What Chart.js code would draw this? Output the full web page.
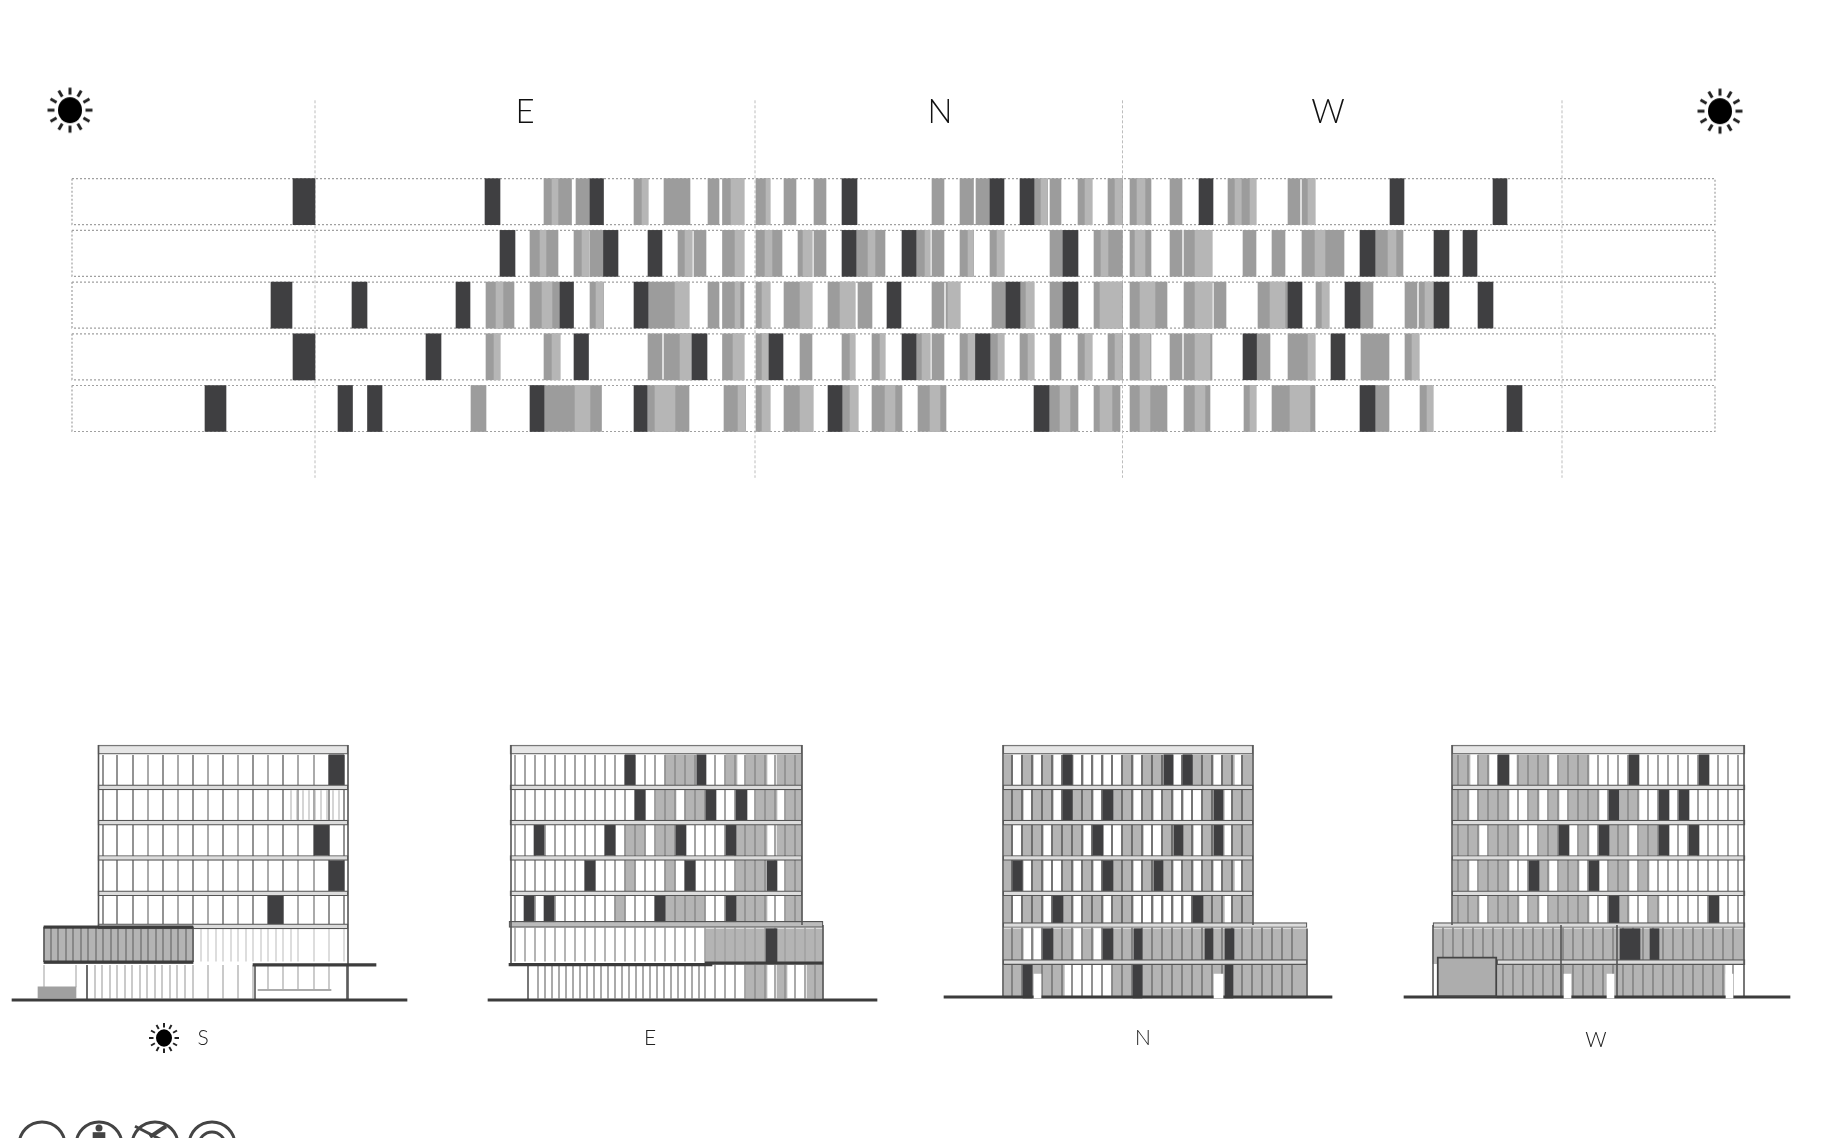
<!DOCTYPE html>
<html>
<head>
<meta charset="utf-8">
<title>Facade panel pattern</title>
<script src="https://cdn.jsdelivr.net/npm/chart.js@4"></script>
<style>
html, body { margin: 0; padding: 0; background: #fff; overflow: hidden; }
canvas { position: absolute; left: 0; filter: blur(0.7px); }
#strip { top: 0; }
#elevations { top: 730px; }
</style>
</head>
<body>
<canvas id="strip" width="1822" height="490"></canvas>
<canvas id="elevations" width="1822" height="440"></canvas>
<script>
// unrolled facade strip: position along the building, one list per floor
const rowOneDark = [[293,315],[485,500],[590,603.5],[842,857],[990,1004],[1020,1034],[1199,1213],[1390,1404],[1493,1507]];
const rowOneLight = [[544,571.5],[576,590],[634,648],[664,690],[708,719],[722.5,744],[756,770],[784,796],[814,826],[932,944],[960,973.5],[976,990],[1034,1047.5],[1050,1061],[1078,1092],[1108,1122.5],[1130,1151],[1170,1182],[1228,1241.5],[1242,1256],[1288,1300],[1302,1315]];
const rowOnePale = [[552,558],[642,648],[731,744],[766,770],[1041,1047],[1085,1092],[1115,1122],[1137,1145],[1235,1241],[1250,1256],[1308,1315]];
const rowTwoDark = [[500,515],[603.5,618],[648,662],[842,856],[902,916],[1063,1078],[1360,1375],[1434,1449],[1463,1477]];
const rowTwoLight = [[530,558],[574,589],[590,603.5],[678,692],[694,706],[722.5,744],[756,782],[798,812],[814,826],[856,885],[916,930],[932,944],[960,973.5],[990,1004],[1050,1063],[1094,1122.5],[1130,1151],[1170,1182],[1184,1212],[1243,1256],[1272,1285],[1302,1344],[1375,1403]];
const rowTwoPale = [[540,546],[582,589],[685,692],[735,744],[765,772],[803,812],[868,875],[925,930],[968,973],[997,1004],[1101,1108],[1135,1145],[1195,1212],[1315,1325],[1388,1396]];
const rowThreeDark = [[271,292],[352,367],[456,470],[560,573.5],[634,648],[887,901],[1006,1020],[1063,1078],[1288,1302],[1345,1360],[1434,1449],[1478,1493]];
const rowThreeLight = [[486,514],[530,560],[590,603.5],[648,689],[708,719],[722.5,744],[756,770],[784,812],[828,855],[858,872],[932,944],[946,960],[992,1006],[1020,1034],[1050,1063],[1094,1122.5],[1130,1167],[1184,1212],[1214,1226],[1258,1288],[1316,1329],[1360,1373],[1405,1417],[1419,1434]];
const rowThreePale = [[496,503],[542,552],[596,603],[675,689],[735,740],[762,770],[800,812],[840,855],[948,960],[1026,1034],[1100,1122],[1140,1155],[1195,1212],[1270,1285],[1322,1329],[1425,1434]];
const rowFourDark = [[293,315],[426,441],[574,588.5],[692,707],[769,783],[902,916],[975.5,990],[1243,1256.5],[1331,1345]];
const rowFourLight = [[486,500],[544,560],[648,662],[664,692],[722.5,744],[756,769],[800,812],[842,855],[872,885],[916,930],[932,944],[960,975.5],[990,1004],[1020,1034],[1050,1061],[1078,1092],[1108,1122.5],[1130,1151],[1170,1182],[1184,1212],[1256.5,1270],[1288,1315],[1361,1389],[1405,1419]];
const rowFourPale = [[494,500],[552,560],[680,692],[733,744],[762,769],[850,855],[880,885],[922,930],[968,975],[998,1004],[1028,1034],[1085,1092],[1115,1122],[1140,1150],[1195,1210],[1308,1315],[1412,1419]];
const rowFiveDark = [[205,226],[338,352.5],[367.5,382],[530,544],[634,647],[828,842],[1034,1049],[1360,1375],[1507,1522]];
const rowFiveLight = [[471,486],[544,601.5],[647,689],[724,745.5],[756,770],[784,813],[842,858],[872,902],[918,946],[1049,1078],[1094,1120],[1130,1167],[1184,1210],[1244,1256],[1272,1315],[1375,1389],[1420,1433]];
const rowFivePale = [[575,590],[655,675],[738,745],[762,770],[800,813],[850,858],[885,895],[930,940],[1060,1070],[1100,1112],[1140,1150],[1195,1205],[1250,1256],[1290,1310],[1427,1433]];
const stripRows = [1, 2, 3, 4, 5];
const stripSpan = [72, 1715];
const sectionLines = [315, 755, 1122.5, 1562];
const stripNames = ['E', 'N', 'W'];
const stripNameX = [525, 940, 1328];

// elevations: [floor, from, to]
const southDark = [[7,329,344],[5,314,329],[4,329,344],[3,268,283]];
const southGrey = [[2,44,193]];
const eastDark = [[7,625,635],[7,697,706],[6,635,645],[6,706,716],[6,736,747],[5,534,544],[5,605,615],[5,676,686],[5,726,736],[4,585,595],[4,685,695],[4,767,777],[3,524,534],[3,544,554],[3,655,665],[3,726,736],[2,766,777]];
const eastGrey = [[7,665,697],[7,726,737],[7,746,767],[7,777,802],[6,656,676],[6,685,706],[6,756,777],[6,786,802],[5,625,645],[5,656,676],[5,736,767],[5,777,802],[4,625,635],[4,665,675],[4,736,766],[4,786,802],[3,615,625],[3,665,705],[3,736,767],[3,786,802],[2,705,823],[1,746,767],[1,777,787],[1,807,823]];
const northDark = [[7,1063,1072],[7,1164,1173],[7,1183,1192],[6,1063,1072],[6,1103,1113],[6,1214,1223],[5,1093,1103],[5,1174,1183],[5,1214,1223],[4,1013,1022],[4,1103,1113],[4,1154,1163],[3,1053,1063],[3,1193,1203],[2,1043,1053],[2,1103,1113],[2,1134,1142],[2,1205,1213],[2,1225,1234],[1,1023,1032],[1,1133,1142],[1,1225,1233]];
const northGrey = [[7,1004,1252],[6,1004,1252],[5,1004,1252],[4,1004,1252],[3,1004,1252],[2,1004,1306],[1,1004,1306]];
const northClear = [[7,1013,1021],[7,1034,1041],[7,1054,1062],[7,1074,1082],[7,1084,1093],[7,1094,1102],[7,1104,1122],[7,1134,1142],[7,1174,1182],[7,1214,1222],[7,1235,1242],[6,1024,1031],[6,1054,1062],[6,1094,1102],[6,1134,1142],[6,1154,1162],[6,1174,1182],[6,1184,1202],[6,1225,1232],[5,1013,1021],[5,1044,1052],[5,1084,1092],[5,1104,1122],[5,1144,1162],[5,1194,1202],[5,1225,1232],[4,1024,1031],[4,1044,1062],[4,1074,1082],[4,1094,1102],[4,1134,1142],[4,1174,1182],[4,1194,1202],[4,1214,1222],[4,1235,1242],[3,1013,1021],[3,1044,1052],[3,1074,1082],[3,1104,1112],[3,1134,1152],[3,1154,1162],[3,1164,1172],[3,1174,1182],[3,1184,1192],[3,1225,1232],[2,1024,1031],[2,1034,1041],[2,1074,1082],[2,1094,1102],[1,1065,1112]];
const westDark = [[7,1498,1509],[7,1629,1639],[7,1699,1709],[6,1609,1619],[6,1659,1669],[6,1679,1689],[5,1559,1569],[5,1599,1609],[5,1659,1669],[5,1689,1699],[4,1529,1539],[4,1589,1599],[3,1609,1619],[3,1709,1719],[2,1620,1640],[2,1650,1659]];
const westGrey = [[7,1453,1470],[7,1478,1489],[7,1517,1549],[7,1559,1589],[6,1453,1469],[6,1478,1509],[6,1529,1539],[6,1549,1559],[6,1569,1599],[6,1620,1639],[5,1453,1479],[5,1489,1519],[5,1539,1559],[5,1579,1589],[5,1609,1629],[5,1639,1659],[4,1453,1469],[4,1479,1509],[4,1539,1549],[4,1559,1579],[4,1609,1629],[4,1639,1649],[3,1453,1479],[3,1489,1519],[3,1529,1539],[3,1549,1589],[3,1619,1629],[3,1649,1659],[2,1433,1744],[1,1497,1725]];
const doorways = [[0.87,1034,1041],[0.87,1214,1223],[0.87,1564,1571],[0.87,1607,1614],[0.87,1726,1733]];
const southBench = [[0.69,38,76]];
const southSill = [[0.76,258,331]];
const westBlock = [[1.13,1437,1497]];

const southMullionsStrong = [103,117,133,163,193,223,253,283,329,344];
const southMullionsSoft = [148,178,208,238,268,298,314];
const southScreen = [291,297,303,309,315,321,327,333,339];
const southColumns = [44,76];
const southPodiumStripes = [51,58,66,73,81,88,96,103,111,118,126,133,141,148,156,163,171,178,186];
const southPodiumPale = [193,201,208,216,223,231,238,246,253,261,268,276,283,291,298,314,329,344];
const southGroundPale = [87,95,102,110,117,125,132,140,147,155,162,170,177,185,193,208,223,238,253];
const southBoxMullions = [268,283,298,314,329];
const eastMullions = [515,525,535,545,555,565,575,585,595,605,615,625,635,645,655,665,675,685,695,705,715,725,735,745,755,765,775,785,795];
const eastPodiumMullions = [515,525,535,545,555,565,575,585,595,605,615,625,635,645,655,665,675,685,695,705,715,725,735,745,755,765,775,785,795,805,815];
const eastGroundStripes = [538,545,552,559,566,573,580,587,594,601,608,615,622,629,636,643,650,657,664,671,678,685,692,699,705,715,725,735,745,755,765,775,785,795,805,815];
const northMullions = [1012,1022,1032,1042,1052,1062,1072,1082,1092,1102,1112,1122,1132,1142,1152,1162,1172,1182,1192,1202,1212,1222,1232,1242];
const northLowMullions = [1012,1022,1032,1042,1052,1062,1072,1082,1092,1102,1112,1122,1132,1142,1152,1162,1172,1182,1192,1202,1212,1222,1232,1242,1252,1262,1272,1282,1292];
const westMullions = [1458,1468,1478,1488,1498,1508,1518,1528,1538,1548,1558,1568,1578,1588,1598,1608,1618,1628,1638,1648,1658,1668,1678,1688,1698,1708,1718,1728,1738];
const westLowMullions = [1443,1453,1463,1473,1483,1493,1503,1513,1523,1533,1543,1553,1563,1573,1583,1593,1603,1613,1623,1633,1643,1653,1663,1673,1683,1693,1703,1713,1723,1733];

const roofs = [[7.57,98,348],[7.57,510,802],[7.57,1003,1253],[7.57,1452,1745]];
const slabs = [[6.5,98,348],[5.5,98,348],[4.5,98,348],[3.5,98,348],[2.56,98,348],
  [6.5,510,802],[5.5,510,802],[4.5,510,802],[3.5,510,802],
  [6.5,1003,1253],[5.5,1003,1253],[4.5,1003,1253],[3.5,1003,1253],[2.6,1003,1307],[1.55,1003,1307],
  [6.5,1452,1745],[5.5,1452,1745],[4.5,1452,1745],[3.5,1452,1745],[2.6,1433,1745],[1.55,1497,1745]];
const greyBands = [[2.62,509,823]];
const beams = [[1.47,253,376],[1.48,509,712],[1.52,705,823],[2.54,44,193],[1.55,44,193],[0.476,12,407],[0.476,488,877],[0.56,944,1332],[0.56,1404,1790]];
// vertical edges: [x, low floor, high floor]
const edges = [[98.5,2.55,7.7],[348,0.5,7.7],[44,1.55,2.55],[193,1.55,2.55],[87,0.5,1.47],[255,0.5,1.47],[347,0.5,1.47],
  [511,1.5,7.7],[802,2.6,7.7],[823,0.5,2.6],[528,0.5,1.5],
  [1003,0.56,7.7],[1253,2.6,7.7],[1307,0.56,2.5],
  [1452,2.6,7.7],[1744,0.56,7.7],[1433,0.56,2.6],[1561,0.56,2.6],[1617,0.56,2.6]];

const elevationNames = ['S', 'E', 'N', 'W'];
const elevationNameX = [203, 650, 1143, 1596];
const elevationNameY = [-0.6, -0.6, -0.6, -0.66];
const badgeX = [42, 99, 155, 212];

const DARK = '#3f3f41', MID = '#9c9c9c', PALE = '#b6b6b6', GREY = '#b4b4b4';

function makeSun(size, disc, inner, outer, lw) {
  const c = document.createElement('canvas');
  c.width = c.height = size;
  const g = c.getContext('2d');
  g.translate(size / 2, size / 2);
  g.fillStyle = '#000';
  g.beginPath();
  g.ellipse(0, 0, disc, disc * 1.08, 0, 0, Math.PI * 2);
  g.fill();
  g.strokeStyle = '#222';
  g.lineWidth = lw;
  for (let i = 0; i < 12; i++) {
    const a = i * Math.PI / 6;
    g.beginPath();
    g.moveTo(Math.cos(a) * inner, Math.sin(a) * inner);
    g.lineTo(Math.cos(a) * outer, Math.sin(a) * outer);
    g.stroke();
  }
  return c;
}

function bars(rows, thick, colour, order, extra) {
  return Object.assign({
    type: 'bar',
    data: rows.map(r => ({ y: r[0], x: [r[1], r[2]] })),
    barThickness: thick,
    backgroundColor: colour,
    borderWidth: 0,
    grouped: false,
    order: order
  }, extra || {});
}

function rowBars(lists, thick, colour, order) {
  const rows = [];
  lists.forEach((list, i) => list.forEach(s => rows.push([stripRows[i], s[0], s[1]])));
  return bars(rows, thick, colour, order);
}

// one floor height per level group
function facadeBars(rows, colour, order) {
  return [
    bars(rows.filter(r => r[0] >= 3), 30, colour, order),
    bars(rows.filter(r => r[0] === 2), 35, colour, order),
    bars(rows.filter(r => r[0] === 1), 33, colour, order)
  ];
}

function path(points, colour, width, order, dash) {
  return {
    type: 'scatter',
    data: points,
    showLine: true,
    borderColor: colour,
    borderWidth: width,
    borderDash: dash || [],
    pointRadius: 0,
    spanGaps: false,
    clip: false,
    order: order
  };
}

function verticals(xs, lo, hi, colour, width, order, dash) {
  const pts = [];
  xs.forEach(x => pts.push({ x: x, y: lo }, { x: x, y: hi }, { x: NaN, y: NaN }));
  return path(pts, colour, width, order, dash);
}

function points(list, style, radius, order, border, fill) {
  return {
    type: 'scatter',
    data: list,
    pointStyle: style,
    pointRadius: radius,
    pointBorderWidth: border || 0,
    pointBorderColor: '#444',
    pointBackgroundColor: fill || 'transparent',
    clip: false,
    order: order
  };
}

const textLabels = {
  id: 'textLabels',
  afterDraw(chart, args, opts) {
    const ctx = chart.ctx;
    ctx.save();
    ctx.fillStyle = opts.color;
    ctx.font = opts.font;
    ctx.textAlign = 'center';
    ctx.textBaseline = 'middle';
    opts.names.forEach((t, i) => {
      ctx.fillText(t, chart.scales.x.getPixelForValue(opts.xs[i]), chart.scales.y.getPixelForValue(opts.ys[i]));
    });
    ctx.restore();
  }
};

function baseOptions(yMin, yMax, reverse, labels) {
  return {
    responsive: false,
    animation: false,
    indexAxis: 'y',
    layout: { padding: 0, autoPadding: false },
    events: [],
    scales: {
      x: { type: 'linear', min: 0, max: 1822, display: false },
      y: { type: 'linear', min: yMin, max: yMax, reverse: reverse, offset: false, display: false }
    },
    plugins: { legend: { display: false }, tooltip: { enabled: false }, textLabels: labels }
  };
}

// strip chart
const stripSets = [
  rowBars([rowOnePale, rowTwoPale, rowThreePale, rowFourPale, rowFivePale], 46, PALE, 4),
  rowBars([rowOneLight, rowTwoLight, rowThreeLight, rowFourLight, rowFiveLight], 46, MID, 5),
  rowBars([rowOneDark, rowTwoDark, rowThreeDark, rowFourDark, rowFiveDark], 46, DARK, 3),
  verticals(sectionLines, -0.96, 6.34, '#bdbdbd', 1, 20, [3, 2]),
  points([{ x: 70, y: -0.77 }, { x: 1720, y: -0.75 }], makeSun(52, 12, 15.5, 22.5, 3), 24, 1)
];
stripRows.forEach(r => {
  stripSets.push(path([
    { x: stripSpan[0], y: r - 0.445 }, { x: stripSpan[1], y: r - 0.445 },
    { x: stripSpan[1], y: r + 0.445 }, { x: stripSpan[0], y: r + 0.445 },
    { x: stripSpan[0], y: r - 0.445 }
  ], '#a0a0a0', 1.2, 20, [2, 2]));
});

new Chart(document.getElementById('strip'), {
  data: { datasets: stripSets },
  options: baseOptions(-2.9, 6.576, true, {
    names: stripNames, xs: stripNameX, ys: [-0.73, -0.73, -0.73],
    font: '300 33px Lato, sans-serif', color: '#111'
  }),
  plugins: [textLabels]
});

// elevation chart
const sets = [];
[southGrey, eastGrey, northGrey, westGrey].forEach(l => sets.push(...facadeBars(l, GREY, 12)));
sets.push(...facadeBars(northClear, '#ffffff', 11));
sets.push(bars(doorways, 24, '#ffffff', 5));
sets.push(bars(southBench, 11, '#a0a0a0', 9));
sets.push(bars(southSill, 1.5, '#aaaaaa', 9));
sets.push(bars(westBlock, 40, '#adadad', 4, { borderWidth: 2, borderColor: '#444', borderSkipped: false }));
sets.push(verticals(southMullionsStrong, 2.58, 7.42, '#666', 1.4, 10));
sets.push(verticals(southMullionsSoft, 2.58, 7.42, '#aaa', 2, 10));
sets.push(verticals(southScreen, 5.58, 6.42, '#c8c8c8', 1.5, 10));
sets.push(verticals(southColumns, 0.84, 1.47, '#bbb', 1.4, 10));
sets.push(verticals(southPodiumStripes, 1.57, 2.52, '#7e7e7e', 1.6, 10));
sets.push(verticals(southPodiumPale, 1.57, 2.52, '#cfcfcf', 1.4, 10));
sets.push(verticals(southGroundPale, 0.52, 1.47, '#bdbdbd', 1.6, 10));
sets.push(verticals(southBoxMullions, 0.75, 1.47, '#aaa', 1.2, 10));
sets.push(verticals(eastMullions, 2.58, 7.42, '#8e8e8e', 1.6, 10));
sets.push(verticals(eastPodiumMullions, 1.57, 2.52, '#a2a2a2', 1.6, 10));
sets.push(verticals(eastGroundStripes, 0.52, 1.47, '#8e8e8e', 1.5, 10));
sets.push(verticals(northMullions, 2.58, 7.42, '#666', 1.8, 10));
sets.push(verticals(northLowMullions, 0.56, 2.52, '#777', 1.6, 10));
sets.push(verticals(westMullions, 2.58, 7.42, '#8a8a8a', 1.6, 10));
sets.push(verticals(westLowMullions, 0.56, 2.52, '#7c7c7c', 1.4, 10));
[southDark, eastDark, northDark, westDark].forEach(l => sets.push(...facadeBars(l, DARK, 8)));
sets.push(bars(roofs, 9, '#e6e6e6', 7, { borderWidth: 1.4, borderColor: '#777', borderSkipped: false }));
sets.push(bars(slabs, 5, '#dcdcdc', 7, { borderWidth: 1.2, borderColor: '#555', borderSkipped: false }));
sets.push(bars(greyBands, 6, '#bcbcbc', 7, { borderWidth: 1.2, borderColor: '#555', borderSkipped: false }));
sets.push(bars(beams, 2.5, '#3c3c3c', 6));
edges.forEach(e => sets.push(path([{ x: e[0], y: e[1] }, { x: e[0], y: e[2] }], '#555', 1.6, 6)));
sets.push(points([{ x: 164, y: -0.6 }], makeSun(36, 8, 10.5, 15, 2), 17, 3));
// licence badges, cut off by the bottom edge
sets.push(points(badgeX.map(x => ({ x: x, y: -3.63 })), 'circle', 23, 3, 3));
sets.push(points([{ x: 33, y: -3.68 }, { x: 51, y: -3.68 }], 'circle', 7, 3, 3));
sets.push(points([{ x: 212, y: -3.63 }], 'circle', 13, 3, 3));
sets.push(points([{ x: 99, y: -3.15 }], 'circle', 3.5, 3, 0, '#444'));
sets.push(bars([[-3.42, 93, 105]], 10, '#444', 3));
sets.push(path([{ x: 135, y: -3.1 }, { x: 176, y: -3.7 }], '#444', 3, 3));
sets.push(path([{ x: 166, y: -3.1 }, { x: 150, y: -3.4 }], '#444', 4, 3));

new Chart(document.getElementById('elevations'), {
  data: { datasets: sets },
  options: baseOptions(-4.34, 8.125, false, {
    names: elevationNames,
    xs: elevationNameX,
    ys: elevationNameY,
    font: '300 21px Lato, sans-serif', color: '#222'
  }),
  plugins: [textLabels]
});
</script>
</body>
</html>
